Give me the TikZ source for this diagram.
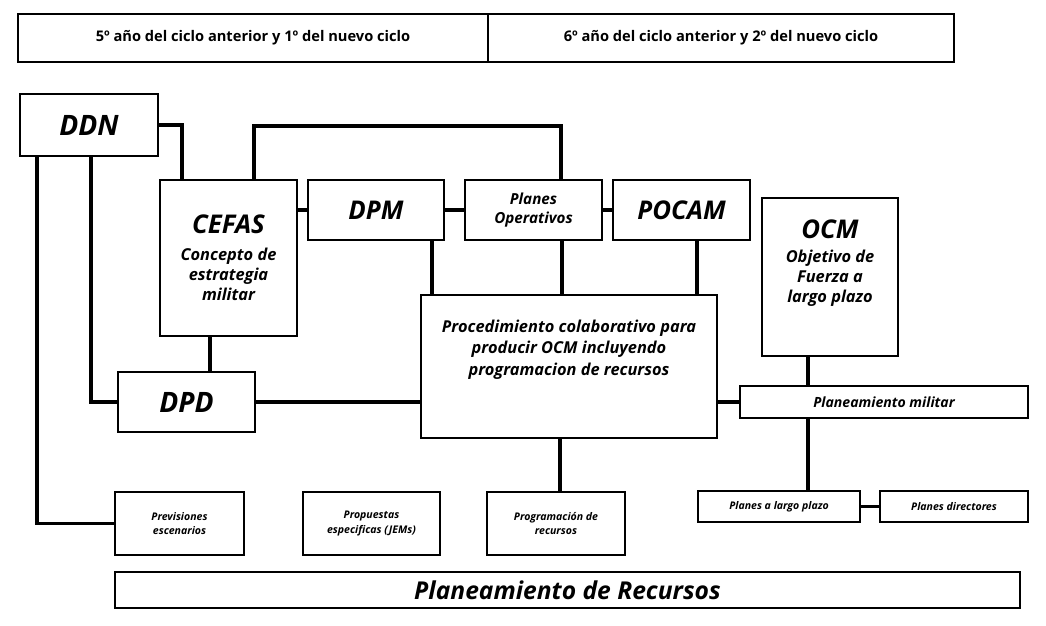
\documentclass[tikz,border=0pt]{standalone}
\usepackage{fontspec}
\setmainfont{Open Sans}
\usetikzlibrary{positioning,calc}

\tikzset{
  bx/.style={draw, line width=2.4pt, align=center, inner sep=1pt,
    font=\bfseries\itshape},
  lnk/.style={line width=3.4pt},
}

\begin{document}
\begin{tikzpicture}[x=0.03cm, y=-0.03cm]
    \useasboundingbox (0,0) rectangle (1046,626);
    % Header
    \node[bx, font=\bfseries\fontsize{12.5}{14}\selectfont, minimum width=470*0.03cm, minimum height=48*0.03cm] (hdra) at (253,38) {5º año del ciclo anterior y 1º del nuevo ciclo};
    \node[bx, font=\bfseries\fontsize{12.5}{14}\selectfont, minimum width=466*0.03cm, minimum height=48*0.03cm] (hdrb) at (721,38) {6º año del ciclo anterior y 2º del nuevo ciclo};

    % Main boxes
    \node[bx, font=\bfseries\itshape\fontsize{24}{26}\selectfont, minimum width=138*0.03cm, minimum height=62*0.03cm] (ddn) at (89,125) {DDN};
    \node[bx, font=\bfseries\itshape\fontsize{14}{17}\selectfont, minimum width=137*0.03cm, minimum height=156*0.03cm] (cefas) at (228.5,258) {{\fontsize{22}{24}\selectfont CEFAS}\\[6pt]Concepto de\\estrategia\\militar};
    \node[bx, font=\bfseries\itshape\fontsize{22}{24}\selectfont, minimum width=136*0.03cm, minimum height=60*0.03cm] (dpm) at (376,210) {DPM};
    \node[bx, font=\bfseries\itshape\fontsize{13}{16}\selectfont, minimum width=137*0.03cm, minimum height=60*0.03cm] (plop) at (533.5,210) {Planes\\Operativos};
    \node[bx, font=\bfseries\itshape\fontsize{22}{24}\selectfont, minimum width=137*0.03cm, minimum height=60*0.03cm] (pocam) at (681.5,210) {POCAM};
    \node[bx, font=\bfseries\itshape\fontsize{14}{17}\selectfont, minimum width=136*0.03cm, minimum height=158*0.03cm] (ocm) at (830,277) {{\fontsize{22}{24}\selectfont OCM}\\[4pt]Objetivo de\\Fuerza a\\largo plazo\\[10pt]};
    \node[bx, font=\bfseries\itshape\fontsize{14}{18}\selectfont, minimum width=296*0.03cm, minimum height=143*0.03cm] (proc) at (569,366.5) {Procedimiento colaborativo para\\producir OCM incluyendo\\programacion de recursos\\[14pt]};
    \node[bx, font=\bfseries\itshape\fontsize{24}{26}\selectfont, minimum width=137*0.03cm, minimum height=60*0.03cm] (dpd) at (186.5,402) {DPD};
    \node[bx, font=\bfseries\itshape\fontsize{12}{14}\selectfont, minimum width=288*0.03cm, minimum height=32*0.03cm] (planmil) at (884,402) {Planeamiento militar};

    % Bottom row
    \node[bx, font=\bfseries\itshape\fontsize{9}{12}\selectfont, minimum width=129*0.03cm, minimum height=63*0.03cm] (prev) at (179.5,523.5) {Previsiones\\escenarios};
    \node[bx, font=\bfseries\itshape\fontsize{9}{12}\selectfont, minimum width=137*0.03cm, minimum height=63*0.03cm] (prop) at (371.5,523.5) {Propuestas\\especificas (JEMs)};
    \node[bx, font=\bfseries\itshape\fontsize{9}{12}\selectfont, minimum width=138*0.03cm, minimum height=63*0.03cm] (prog) at (556,523.5) {Programación de\\recursos};
    \node[bx, font=\bfseries\itshape\fontsize{9}{11}\selectfont, minimum width=162*0.03cm, minimum height=31*0.03cm] (plp) at (779,506.5) {Planes a largo plazo};
    \node[bx, font=\bfseries\itshape\fontsize{9}{11}\selectfont, minimum width=148*0.03cm, minimum height=31*0.03cm] (pdir) at (954,506.5) {Planes directores};
    \node[bx, font=\bfseries\itshape\fontsize{21}{24}\selectfont, minimum width=905*0.03cm, minimum height=36*0.03cm] (prec) at (567.5,590) {Planeamiento de Recursos};

    % Connectors
    \draw[lnk] (ddn.east) -| ($(cefas.north west)+(23,0)$);
    \draw[lnk] ($(ddn.south west)+(18,0)$) |- (prev.west);
    \draw[lnk] ($(ddn.south west)+(72,0)$) |- (dpd.west);
    \draw[lnk] ($(cefas.north west)+(95,0)$) -- ++(0,-53) -| ($(plop.north west)+(97,0)$);
    \draw[lnk] (cefas.east |- dpm.west) -- (dpm.west);
    \draw[lnk] (dpm.east) -- (plop.west);
    \draw[lnk] (plop.east) -- (pocam.west);
    \draw[lnk] (dpm.south -| 432,0) -- (proc.north -| 432,0);
    \draw[lnk] (plop.south -| 562,0) -- (proc.north -| 562,0);
    \draw[lnk] (pocam.south -| 697,0) -- (proc.north -| 697,0);
    \draw[lnk] (cefas.south -| 210,0) -- (dpd.north -| 210,0);
    \draw[lnk] (dpd.east) -- (dpd.east -| proc.west);
    \draw[lnk] (planmil.west -| proc.east) -- (planmil.west);
    \draw[lnk] (ocm.south -| 808,0) -- (planmil.north -| 808,0);
    \draw[lnk] (planmil.south -| 808,0) -- (plp.north -| 808,0);
    \draw[lnk] (proc.south -| 560,0) -- (prog.north -| 560,0);
    \draw[lnk] (plp.east) -- (pdir.west);
\end{tikzpicture}
\end{document}
